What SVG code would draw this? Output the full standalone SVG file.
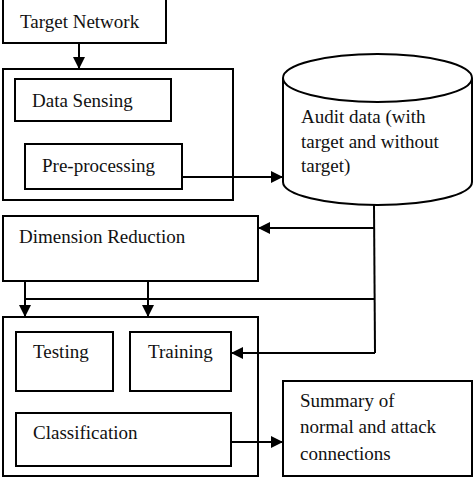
<svg xmlns="http://www.w3.org/2000/svg" width="474" height="477" viewBox="0 0 474 477">
<defs>
<style>
.b{fill:#fff;stroke:#000;stroke-width:2}
.t{font-family:"Liberation Serif","Times New Roman",serif;font-size:19px;fill:#111}
.c{fill:none;stroke:#000;stroke-width:2}
</style>
<marker id="ah" viewBox="0 0 10 10" refX="10" refY="5" markerWidth="12" markerHeight="12" markerUnits="userSpaceOnUse" orient="auto">
<path d="M0,0 L10,5 L0,10 Z" fill="#000"/>
</marker>
</defs>
<rect width="474" height="477" fill="#fff"/>
<g id="target-network"><rect class="b" x="3" y="-1" width="163" height="44"/><text class="t" x="20" y="28">Target Network</text></g>
<g id="stage1"><rect class="b" x="3" y="69" width="230" height="131"/></g>
<g id="data-sensing"><rect class="b" x="15" y="79" width="156" height="42"/><text class="t" x="32" y="107">Data Sensing</text></g>
<g id="pre-processing"><rect class="b" x="25" y="144" width="157" height="45"/><text class="t" x="42" y="172">Pre-processing</text></g>
<g id="audit-data">
<path class="b" d="M283,78 L283,182 A94.5,23 0 0 0 472,182 L472,78"/>
<ellipse class="b" cx="377.5" cy="78" rx="94.5" ry="24"/>
<text class="t" x="301" y="123">Audit data (with</text>
<text class="t" x="301" y="148">target and without</text>
<text class="t" x="301" y="172">target)</text>
</g>
<g id="dimension-reduction"><rect class="b" x="3" y="216" width="255" height="65"/><text class="t" x="19" y="243">Dimension Reduction</text></g>
<g id="stage2"><rect class="b" x="3" y="317" width="255" height="159"/></g>
<g id="testing"><rect class="b" x="16" y="332" width="97" height="59"/><text class="t" x="33" y="358">Testing</text></g>
<g id="training"><rect class="b" x="130" y="332" width="101" height="59"/><text class="t" x="148" y="358">Training</text></g>
<g id="classification"><rect class="b" x="16" y="413" width="215" height="53"/><text class="t" x="33" y="439">Classification</text></g>
<g id="summary"><rect class="b" x="283" y="381" width="189" height="95"/>
<text class="t" x="300" y="407">Summary of</text>
<text class="t" x="300" y="433">normal and attack</text>
<text class="t" x="300" y="460">connections</text></g>
<g id="connectors">
<path class="c" d="M79,43 L79,69" marker-end="url(#ah)"/>
<path class="c" d="M182,177 L283,177" marker-end="url(#ah)"/>
<path class="c" d="M374,205 L375,353"/>
<path class="c" d="M374,228 L258,228" marker-end="url(#ah)"/>
<path class="c" d="M375,353 L231,353" marker-end="url(#ah)"/>
<path class="c" d="M25,299 L375,299"/>
<path class="c" d="M25,281 L25,317" marker-end="url(#ah)"/>
<path class="c" d="M148,281 L148,317" marker-end="url(#ah)"/>
<path class="c" d="M231,442 L283,442" marker-end="url(#ah)"/>
</g>
</svg>
